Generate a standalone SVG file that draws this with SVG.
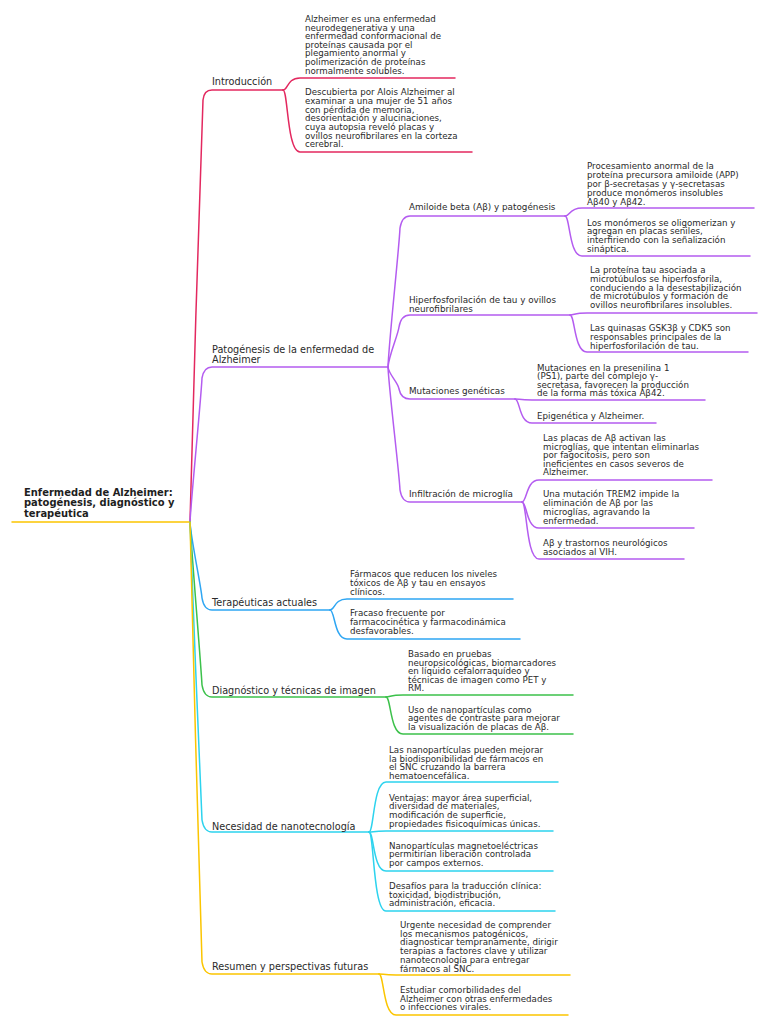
<svg xmlns="http://www.w3.org/2000/svg" width="768" height="1024" viewBox="0 0 768 1024">
<style>
text{font-family:"DejaVu Sans","Liberation Sans",sans-serif;fill:#2a2a2a}
.root{font-size:9.95px;font-weight:bold;fill:#1e1e1e}
.br{font-size:9.7px}
.sub{font-size:8.8px}
.leaf{font-size:8.7px}
.c path{fill:none;stroke-width:1.5;stroke-linecap:round;stroke-linejoin:round}
.red{stroke:#E3285F}.pur{stroke:#B45CF0}.blu{stroke:#2EA6F3}.grn{stroke:#3CC14B}.cya{stroke:#2DD3EE}.yel{stroke:#FBC500}
</style>
<rect width="768" height="1024" fill="#fff"/>
<g class="c" id="connectors">
<path class="yel" d="M12,522H190"/>
<path class="red" d="M190,522C191,460 202,120 203,100Q204,90 212,90H283"/>
<path class="red" d="M283,90C288,90 287,78 300,78H455"/>
<path class="red" d="M283,90C288,90 287,152 300,152H472"/>
<path class="pur" d="M190,522C191,500 201,400 202,378Q204,367 212,367H388"/>
<path class="pur" d="M388,367C389,340 399,250 400,228Q402,216 410,216H565"/>
<path class="pur" d="M388,367C389,355 398,335 399,327Q401,315 410,315H570"/>
<path class="pur" d="M388,367C389,375 398,382 399,389Q401,399 410,399H515"/>
<path class="pur" d="M388,367C389,390 399,470 400,490Q402,502 410,502H522"/>
<path class="pur" d="M565,216C570,216 569,208 582,208H754"/>
<path class="pur" d="M565,216C570,216 569,256 582,256H750"/>
<path class="pur" d="M570,315C575,315 574,313 587,313H757"/>
<path class="pur" d="M570,315C575,315 574,352 587,352H748"/>
<path class="pur" d="M515,399C520,399 519,400 532,400H705"/>
<path class="pur" d="M515,399C520,399 519,423 532,423H656"/>
<path class="pur" d="M522,502C527,502 526,480 539,480H712"/>
<path class="pur" d="M522,502C527,502 526,528 539,528H694"/>
<path class="pur" d="M522,502C527,502 526,559 539,559H684"/>
<path class="blu" d="M190,522C191,540 201,585 202,598Q204,610 212,610H330"/>
<path class="blu" d="M330,610C335,610 334,599 347,599H513"/>
<path class="blu" d="M330,610C335,610 334,639 347,639H520"/>
<path class="grn" d="M190,522C191,545 201,665 202,685Q204,697 212,697H386"/>
<path class="grn" d="M386,697C391,697 390,695 403,695H573"/>
<path class="grn" d="M386,697C391,697 390,734 403,734H573"/>
<path class="cya" d="M190,522C191,560 201,800 202,820Q204,832 212,832H369"/>
<path class="cya" d="M369,832C374,832 373,782 386,782H558"/>
<path class="cya" d="M369,832C374,832 373,831 386,831H553"/>
<path class="cya" d="M369,832C374,832 373,871 386,871H553"/>
<path class="cya" d="M369,832C374,832 373,911 386,911H555"/>
<path class="yel" d="M190,522C191,580 201,940 202,962Q204,974 212,974H379"/>
<path class="yel" d="M379,974C384,974 383,975 396,975H570"/>
<path class="yel" d="M379,974C384,974 383,1015 396,1015H568"/>
</g>
<g id="root"><text class="root" x="24" y="495.5">Enfermedad de Alzheimer:<tspan x="24" dy="10.5">patogénesis, diagnóstico y</tspan><tspan x="24" dy="10.5">terapéutica</tspan></text></g>
<g id="intro"><text class="br" x="212" y="85">Introducción</text></g>
<g id="intro-1"><text class="leaf" x="305" y="22">Alzheimer es una enfermedad<tspan x="305" dy="8.6">neurodegenerativa y una</tspan><tspan x="305" dy="8.6">enfermedad conformacional de</tspan><tspan x="305" dy="8.6">proteínas causada por el</tspan><tspan x="305" dy="8.6">plegamiento anormal y</tspan><tspan x="305" dy="8.6">polimerización de proteínas</tspan><tspan x="305" dy="8.6">normalmente solubles.</tspan></text></g>
<g id="intro-2"><text class="leaf" x="305" y="95.3">Descubierta por Alois Alzheimer al<tspan x="305" dy="8.65">examinar a una mujer de 51 años</tspan><tspan x="305" dy="8.65">con pérdida de memoria,</tspan><tspan x="305" dy="8.65">desorientación y alucinaciones,</tspan><tspan x="305" dy="8.65">cuya autopsia reveló placas y</tspan><tspan x="305" dy="8.65">ovillos neurofibrilares en la corteza</tspan><tspan x="305" dy="8.65">cerebral.</tspan></text></g>
<g id="pato"><text class="br" x="212" y="352.5">Patogénesis de la enfermedad de<tspan x="212" dy="10">Alzheimer</tspan></text></g>
<g id="amiloide"><text class="sub" x="409" y="210">Amiloide beta (Aβ) y patogénesis</text></g>
<g id="amiloide-1"><text class="leaf" x="587" y="169">Procesamiento anormal de la<tspan x="587" dy="8.9">proteína precursora amiloide (APP)</tspan><tspan x="587" dy="8.9">por β-secretasas y γ-secretasas</tspan><tspan x="587" dy="8.9">produce monómeros insolubles</tspan><tspan x="587" dy="8.9">Aβ40 y Aβ42.</tspan></text></g>
<g id="amiloide-2"><text class="leaf" x="587" y="225.7">Los monómeros se oligomerizan y<tspan x="587" dy="8.77">agregan en placas seniles,</tspan><tspan x="587" dy="8.77">interfiriendo con la señalización</tspan><tspan x="587" dy="8.77">sináptica.</tspan></text></g>
<g id="tau"><text class="sub" x="409" y="303">Hiperfosforilación de tau y ovillos<tspan x="409" dy="9">neurofibrilares</tspan></text></g>
<g id="tau-1"><text class="leaf" x="590" y="273">La proteína tau asociada a<tspan x="590" dy="8.83">microtúbulos se hiperfosforila,</tspan><tspan x="590" dy="8.83">conduciendo a la desestabilización</tspan><tspan x="590" dy="8.83">de microtúbulos y formación de</tspan><tspan x="590" dy="8.83">ovillos neurofibrilares insolubles.</tspan></text></g>
<g id="tau-2"><text class="leaf" x="590" y="330.7">Las quinasas GSK3β y CDK5 son<tspan x="590" dy="9">responsables principales de la</tspan><tspan x="590" dy="9">hiperfosforilación de tau.</tspan></text></g>
<g id="mut"><text class="sub" x="409" y="394">Mutaciones genéticas</text></g>
<g id="mut-1"><text class="leaf" x="537" y="370.7">Mutaciones en la presenilina 1<tspan x="537" dy="8.55">(PS1), parte del complejo γ-</tspan><tspan x="537" dy="8.55">secretasa, favorecen la producción</tspan><tspan x="537" dy="8.55">de la forma más tóxica Aβ42.</tspan></text></g>
<g id="mut-2"><text class="leaf" x="537" y="418.7">Epigenética y Alzheimer.</text></g>
<g id="micro"><text class="sub" x="409" y="497.3">Infiltración de microglía</text></g>
<g id="micro-1"><text class="leaf" x="543" y="441.3">Las placas de Aβ activan las<tspan x="543" dy="8.5">microglías, que intentan eliminarlas</tspan><tspan x="543" dy="8.5">por fagocitosis, pero son</tspan><tspan x="543" dy="8.5">ineficientes en casos severos de</tspan><tspan x="543" dy="8.5">Alzheimer.</tspan></text></g>
<g id="micro-2"><text class="leaf" x="543" y="497.3">Una mutación TREM2 impide la<tspan x="543" dy="8.8">eliminación de Aβ por las</tspan><tspan x="543" dy="8.8">microglías, agravando la</tspan><tspan x="543" dy="8.8">enfermedad.</tspan></text></g>
<g id="micro-3"><text class="leaf" x="543" y="546">Aβ y trastornos neurológicos<tspan x="543" dy="9">asociados al VIH.</tspan></text></g>
<g id="terap"><text class="br" x="212" y="606">Terapéuticas actuales</text></g>
<g id="terap-1"><text class="leaf" x="350" y="577.3">Fármacos que reducen los niveles<tspan x="350" dy="8.7">tóxicos de Aβ y tau en ensayos</tspan><tspan x="350" dy="8.7">clínicos.</tspan></text></g>
<g id="terap-2"><text class="leaf" x="350" y="616.3">Fracaso frecuente por<tspan x="350" dy="8.85">farmacocinética y farmacodinámica</tspan><tspan x="350" dy="8.85">desfavorables.</tspan></text></g>
<g id="diag"><text class="br" x="212" y="693.5">Diagnóstico y técnicas de imagen</text></g>
<g id="diag-1"><text class="leaf" x="408" y="657">Basado en pruebas<tspan x="408" dy="8.5">neuropsicológicas, biomarcadores</tspan><tspan x="408" dy="8.5">en líquido cefalorraquídeo y</tspan><tspan x="408" dy="8.5">técnicas de imagen como PET y</tspan><tspan x="408" dy="8.5">RM.</tspan></text></g>
<g id="diag-2"><text class="leaf" x="408" y="713">Uso de nanopartículas como<tspan x="408" dy="8.4">agentes de contraste para mejorar</tspan><tspan x="408" dy="8.4">la visualización de placas de Aβ.</tspan></text></g>
<g id="nano"><text class="br" x="212" y="829.5">Necesidad de nanotecnología</text></g>
<g id="nano-1"><text class="leaf" x="389" y="753">Las nanopartículas pueden mejorar<tspan x="389" dy="8.6">la biodisponibilidad de fármacos en</tspan><tspan x="389" dy="8.6">el SNC cruzando la barrera</tspan><tspan x="389" dy="8.6">hematoencefálica.</tspan></text></g>
<g id="nano-2"><text class="leaf" x="389" y="800.7">Ventajas: mayor área superficial,<tspan x="389" dy="8.67">diversidad de materiales,</tspan><tspan x="389" dy="8.67">modificación de superficie,</tspan><tspan x="389" dy="8.67">propiedades fisicoquímicas únicas.</tspan></text></g>
<g id="nano-3"><text class="leaf" x="389" y="849">Nanopartículas magnetoeléctricas<tspan x="389" dy="8.4">permitirían liberación controlada</tspan><tspan x="389" dy="8.4">por campos externos.</tspan></text></g>
<g id="nano-4"><text class="leaf" x="389" y="888.7">Desafíos para la traducción clínica:<tspan x="389" dy="8.8">toxicidad, biodistribución,</tspan><tspan x="389" dy="8.8">administración, eficacia.</tspan></text></g>
<g id="res"><text class="br" x="212" y="969.5">Resumen y perspectivas futuras</text></g>
<g id="res-1"><text class="leaf" x="400" y="928">Urgente necesidad de comprender<tspan x="400" dy="8.74">los mecanismos patogénicos,</tspan><tspan x="400" dy="8.74">diagnosticar tempranamente, dirigir</tspan><tspan x="400" dy="8.74">terapias a factores clave y utilizar</tspan><tspan x="400" dy="8.74">nanotecnología para entregar</tspan><tspan x="400" dy="8.74">fármacos al SNC.</tspan></text></g>
<g id="res-2"><text class="leaf" x="400" y="993">Estudiar comorbilidades del<tspan x="400" dy="8.65">Alzheimer con otras enfermedades</tspan><tspan x="400" dy="8.65">o infecciones virales.</tspan></text></g>
</svg>
